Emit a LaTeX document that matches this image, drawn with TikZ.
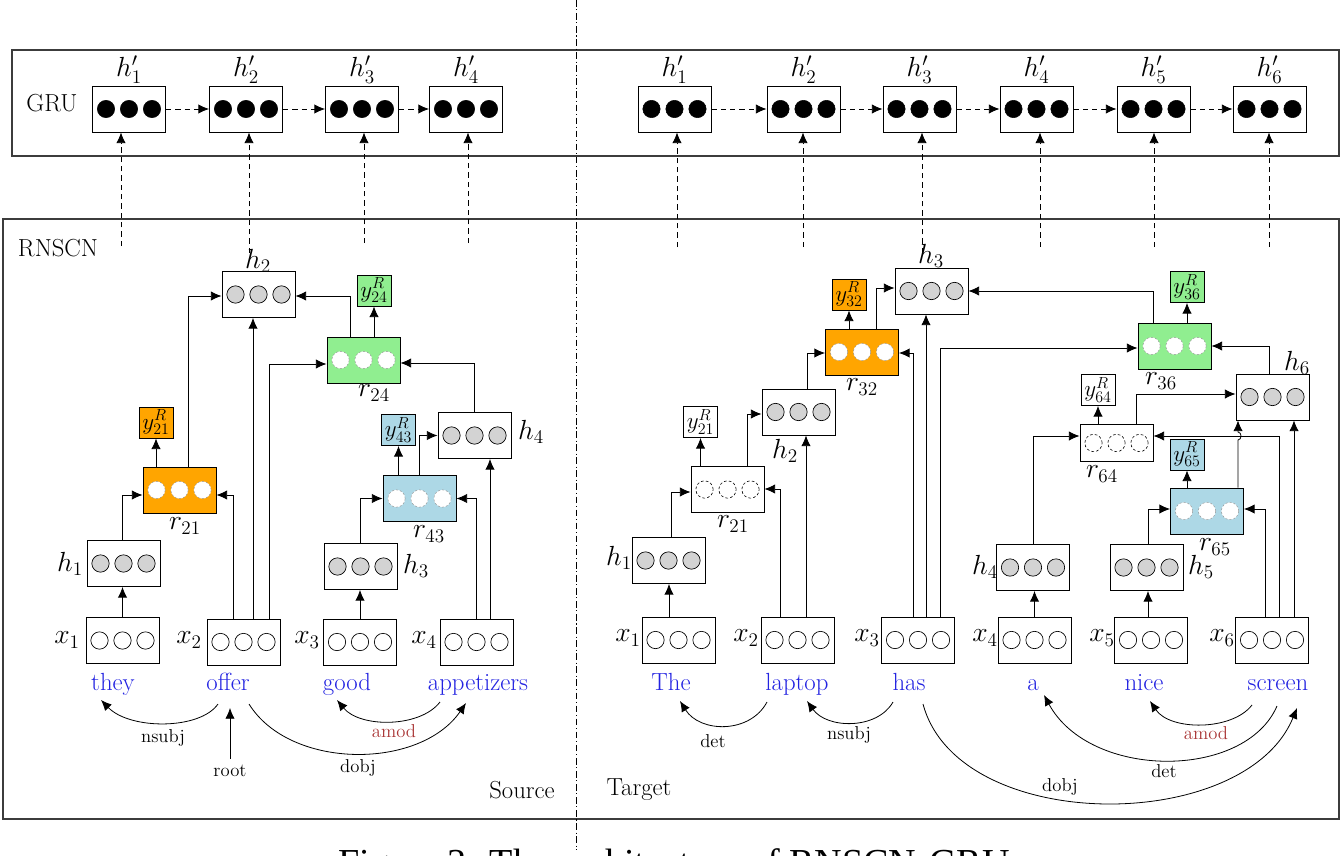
\documentclass[tikz,border=0pt]{standalone}
\usepackage{fontspec}
\newfontfamily\capfont{Liberation Serif}
\usetikzlibrary{arrows.meta,calc}
\definecolor{rorange}{RGB}{255,165,0}
\definecolor{rgreen}{RGB}{144,238,144}
\definecolor{rblue}{RGB}{173,216,230}
\definecolor{hgray}{RGB}{211,211,211}
\definecolor{wordblue}{RGB}{35,35,225}
\definecolor{amodred}{RGB}{170,55,55}
\definecolor{framegray}{RGB}{60,60,60}
\newcommand\trio[2]{\foreach \dx in {-23,0,23}{\draw[#2] ($(#1.center)+(\dx,0)$) circle[radius=6.5pt];}}
\begin{document}
\begin{tikzpicture}[x=0.75pt,y=-0.75pt,
  unitbox/.style={draw, line width=0.7pt, minimum width=54.75pt, minimum height=34.5pt, inner sep=0pt},
  ybox/.style={draw, line width=0.6pt, minimum width=25.5pt, minimum height=23.25pt, inner xsep=1pt, inner ysep=1.2pt, font=\fontsize{17}{19}\selectfont},
  arr/.style={-{Latex[length=8pt,width=7pt]}, line width=0.6pt},
  dasharr/.style={arr, dash pattern=on 4pt off 3pt},
  lbl/.style={font=\fontsize{18.5}{21}\selectfont, inner sep=0pt},
  mlbl/.style={font=\fontsize{20}{22}\selectfont, inner sep=0pt},
  dep/.style={font=\fontsize{14}{16}\selectfont, inner sep=0pt},
  word/.style={font=\fontsize{18.6}{21}\selectfont, text=wordblue, anchor=base, inner sep=0pt},
  frame/.style={draw=framegray, line width=0.8pt},
  gc/.style={fill=black},
  hc/.style={fill=hgray, draw=black, line width=0.5pt},
  xc/.style={fill=white, draw=black, line width=0.5pt},
  rcc/.style={fill=white, draw=black!45, line width=0.3pt, dash pattern=on 1.5pt off 1.5pt},
  rwc/.style={draw=black, line width=0.45pt, dash pattern=on 2pt off 1.6pt}
]
\useasboundingbox (0,0) rectangle (1342,856);

% frames
\draw[frame] (12,50) rectangle (1339,156);
\draw[frame] (3,219) rectangle (1339,819);

\node[lbl] (tgru) at (52,103) {GRU};
\node[lbl] (trnscn) at (58,248) {RNSCN};
\node[lbl] (tsrc) at (522,790) {Source};
\node[lbl] (ttgt) at (639,790) {Target};

% ---------- GRU layer ----------
\foreach \n/\x/\i in {g1/129/1,g2/246/2,g3/362/3,g4/466/4,G1/674.5/1,G2/803.5/2,G3/919.5/3,G4/1036.5/4,G5/1153.5/5,G6/1269.5/6}{
  \node[unitbox] (\n) at (\x,109) {};
  \trio{\n}{gc}
  \node[mlbl] (l\n) at (\x,70) {$h'_{\i}$};
}
\foreach \a/\b in {g1/g2,g2/g3,g3/g4,G1/G2,G2/G3,G3/G4,G4/G5,G5/G6}{
  \draw[dasharr] (\a.east) -- (\b.west);
}
\foreach \c/\x/\y/\g in {c1/121/246/g1,c2/249/253/g2,c3/364/243/g3,c4/468/243/g4,C1/677/247/G1,C2/803/247/G2,C3/922/253/G3,C4/1040/247/G4,C5/1154/247/G5,C6/1269/247/G6}{
  \coordinate (\c) at (\x,\y);
  \draw[dasharr] (\c) -- (\c |- \g.south);
}

% ---------- Source RNSCN ----------
\node[unitbox] (h2L) at (258.5,294.5) {}; \trio{h2L}{hc}
\node[unitbox, fill=rgreen] (r24) at (363.5,360) {}; \trio{r24}{rcc}
\node[ybox, fill=rgreen] (y24) at (374,290.5) {$y^R_{24}$};
\node[unitbox, fill=rorange] (r21L) at (179.5,490) {}; \trio{r21L}{rcc}
\node[ybox, fill=rorange] (y21) at (156,422.5) {$y^R_{21}$};
\node[unitbox] (h4L) at (474.5,435.5) {}; \trio{h4L}{hc}
\node[unitbox, fill=rblue] (r43) at (419.5,498.5) {}; \trio{r43}{rcc}
\node[ybox, fill=rblue] (y43) at (398.5,430) {$y^R_{43}$};
\node[unitbox] (h1L) at (123.5,563.5) {}; \trio{h1L}{hc}
\node[unitbox] (h3L) at (360.5,566.5) {}; \trio{h3L}{hc}
\node[unitbox] (x1L) at (122.5,640.5) {}; \trio{x1L}{xc}
\node[unitbox] (x2L) at (243.5,642) {}; \trio{x2L}{xc}
\node[unitbox] (x3L) at (360,642) {}; \trio{x3L}{xc}
\node[unitbox] (x4L) at (476.5,642) {}; \trio{x4L}{xc}

\node[mlbl] (lh2L) at (258,261) {$h_2$};
\node[mlbl] (lr24) at (374,393) {$r_{24}$};
\node[mlbl] (lr21L) at (185,526) {$r_{21}$};
\node[mlbl] (lh4L) at (531,432) {$h_4$};
\node[mlbl] (lr43) at (429,534) {$r_{43}$};
\node[mlbl] (lh1L) at (70,564) {$h_1$};
\node[mlbl] (lh3L) at (416,566) {$h_3$};
\node[mlbl] (lx1L) at (67,640) {$x_1$};
\node[mlbl] (lx2L) at (189,640) {$x_2$};
\node[mlbl] (lx3L) at (307,640) {$x_3$};
\node[mlbl] (lx4L) at (424,640) {$x_4$};

\draw[arr] ($(r21L.north)+(8.5,0)$) |- ($(h2L.west)+(0,1.5)$);
\draw[arr] ($(r24.north)+(-13.5,0)$) |- ($(h2L.east)+(0,1.5)$);
\draw[arr] (r24.north -| y24.south) -- (y24.south);
\draw[arr] (r21L.north -| y21.south) -- (y21.south);
\draw[arr] ($(x2L.north)+(9.5,0)$) coordinate (a5) -- (a5 |- h2L.south);
\draw[arr] ($(x2L.north)+(25.5,0)$) |- ($(r24.west)+(0,4)$);
\draw[arr] ($(x2L.north)+(-10.5,0)$) |- ($(r21L.east)+(0,5)$);
\draw[arr] ($(h1L.north)+(-1.5,0)$) |- ($(r21L.west)+(0,5)$);
\draw[arr] (h4L.north) |- ($(r24.east)+(0,3)$);
\draw[arr] ($(x4L.north)+(13.5,0)$) coordinate (a10) -- (a10 |- h4L.south);
\draw[arr] (x4L.north) |- (r43.east);
\draw[arr] (r43.north) |- (h4L.west);
\draw[arr] (r43.north -| y43.south) -- (y43.south);
\draw[arr] (h3L.north) |- (r43.west);
\draw[arr] (x1L.north) -- (x1L.north |- h1L.south);
\draw[arr] (x3L.north) -- (x3L.north |- h3L.south);

% words (source)
\node[word] (wThey) at (113,690) {they};
\node[word] (wOffer) at (228,690) {offer};
\node[word] (wGood) at (347,690) {good};
\node[word] (wApp) at (478,690) {appetizers};

\draw[arr] ($(wOffer.base)+(-10,14)$) .. controls +(-18,26) and +(29,30) .. ($(wThey.base)+(-12,10)$);
\draw[arr] ($(wOffer.base)+(21,14)$) .. controls +(41,66) and +(-46,67) .. ($(wApp.base)+(-12,13)$);
\draw[arr] ($(wApp.base)+(-38,12)$) .. controls +(-20,26) and +(23,28) .. ($(wGood.base)+(-10,10)$);
\node[dep] (droot) at (230,771) {root};
\draw[arr] ($(droot.north)+(0,-6)$) -- ($(wOffer.base)+(2,18)$);
\node[dep] (dnsubjL) at (163,738) {nsubj};
\node[dep] (ddobjL) at (358,768) {dobj};
\node[dep, text=amodred] (damodL) at (394,731) {amod};

% ---------- Target RNSCN ----------
\node[unitbox] (h3R) at (931.5,291) {}; \trio{h3R}{hc}
\node[unitbox, fill=rorange] (r32) at (862,352) {}; \trio{r32}{rcc}
\node[ybox, fill=rorange] (y32) at (849,294.5) {$y^R_{32}$};
\node[unitbox] (h2R) at (798.5,412) {}; \trio{h2R}{hc}
\node[ybox, fill=white] (y21R) at (700.5,422) {$y^R_{21}$};
\node[unitbox] (r21R) at (727.5,489.5) {}; \trio{r21R}{rwc}
\node[unitbox] (h1R) at (668.5,560.5) {}; \trio{h1R}{hc}
\node[ybox, fill=rgreen] (y36) at (1187,287) {$y^R_{36}$};
\node[unitbox, fill=rgreen] (r36) at (1174.5,346) {}; \trio{r36}{rcc}
\node[unitbox] (h6R) at (1272.5,397) {}; \trio{h6R}{hc}
\node[ybox, fill=white] (y64) at (1098,390) {$y^R_{64}$};
\node[unitbox, minimum height=27.75pt] (r64) at (1116.5,443) {}; \trio{r64}{rwc}
\node[ybox, fill=rblue] (y65) at (1187,454.5) {$y^R_{65}$};
\node[unitbox, fill=rblue] (r65) at (1207,511) {}; \trio{r65}{rcc}
\node[unitbox] (h4R) at (1033,567.5) {}; \trio{h4R}{hc}
\node[unitbox] (h5R) at (1146.5,567.5) {}; \trio{h5R}{hc}
\foreach \n/\x in {x1R/678.5,x2R/797.5,x3R/918,x4R/1034.5,x5R/1151,x6R/1272}{
  \node[unitbox] (\n) at (\x,640) {}; \trio{\n}{xc}
}

\node[mlbl] (lh3R) at (931,256) {$h_3$};
\node[mlbl] (lr32) at (862,387) {$r_{32}$};
\node[mlbl] (lh2R) at (785,451) {$h_2$};
\node[mlbl] (lr21R) at (733,524) {$r_{21}$};
\node[mlbl] (lh1R) at (619,558) {$h_1$};
\node[mlbl] (lr36) at (1161,381) {$r_{36}$};
\node[mlbl] (lh6R) at (1297,363) {$h_6$};
\node[mlbl] (lr64) at (1102,474) {$r_{64}$};
\node[mlbl] (lr65) at (1215,547) {$r_{65}$};
\node[mlbl] (lh4R) at (985,567) {$h_4$};
\node[mlbl] (lh5R) at (1201,567) {$h_5$};
\node[mlbl] (lx1R) at (628,638) {$x_1$};
\node[mlbl] (lx2R) at (746,638) {$x_2$};
\node[mlbl] (lx3R) at (867,638) {$x_3$};
\node[mlbl] (lx4R) at (985,638) {$x_4$};
\node[mlbl] (lx5R) at (1102,638) {$x_5$};
\node[mlbl] (lx6R) at (1222,638) {$x_6$};

\draw[arr] ($(r32.north)+(14,0)$) |- ($(h3R.west)+(0,-3)$);
\draw[arr] (r32.north -| y32.south) -- (y32.south);
\draw[arr] ($(h2R.north)+(8.5,0)$) |- ($(r32.west)+(0,1)$);
\draw[arr] ($(x3R.north)+(-5,0)$) |- ($(r32.east)+(0,1)$);
\draw[arr] ($(x3R.north)+(8,0)$) coordinate (b5) -- (b5 |- h3R.south);
\draw[arr] ($(x3R.north)+(22,0)$) |- ($(r36.west)+(0,2)$);
\draw[arr] ($(r21R.north)+(19.5,0)$) |- ($(h2R.west)+(0,2)$);
\draw[arr] (r21R.north -| y21R.south) -- (y21R.south);
\draw[arr] ($(h1R.north)+(2.5,0)$) |- ($(r21R.west)+(0,2.5)$);
\draw[arr] ($(x2R.north)+(-17.5,0)$) |- ($(r21R.east)+(0,-0.5)$);
\draw[arr] ($(x2R.north)+(8.5,0)$) coordinate (b11) -- (b11 |- h2R.south);
\draw[arr] ($(x1R.north)+(-9.5,0)$) coordinate (b12) -- (b12 |- h1R.south);
\draw[arr] ($(r36.north)+(-21.5,0)$) |- (h3R.east);
\draw[arr] (r36.north -| y36.south) -- (y36.south);
\draw[arr] ($(h6R.north)+(-3.5,0)$) |- (r36.east);
\draw[arr] (r64.north -| y64.south) -- (y64.south);
\draw[arr] ($(r64.north)+(19.5,0)$) |- ($(h6R.west)+(0,-3)$);
\draw[arr] (h4R.north) |- ($(r64.west)+(0,-7)$);
\draw[arr] ($(x6R.north)+(7,0)$) |- ($(r64.east)+(0,-7)$);
\draw[arr] ($(r65.north)+(31,0)$) coordinate (b20) -- ($(b20 |- r64.east)+(0,-3)$)
   .. controls +(4,0) and +(4,0) .. ($(b20 |- r64.east)+(0,-11)$) -- (b20 |- h6R.south);
\draw[arr] ($(x6R.north)+(22,0)$) coordinate (b21) -- (b21 |- h6R.south);
\draw[arr] (r65.north -| y65.south) -- (y65.south);
\draw[arr] ($(h5R.north)+(1.5,0)$) |- ($(r65.west)+(0,-2)$);
\draw[arr] ($(x6R.north)+(-7,0)$) |- ($(r65.east)+(0,-2)$);
\draw[arr] (x4R.north) -- (x4R.north |- h4R.south);
\draw[arr] ($(x5R.north)+(-3,0)$) coordinate (b26) -- (b26 |- h5R.south);

% words (target)
\node[word] (wThe) at (671,690) {The};
\node[word] (wLaptop) at (797,690) {laptop};
\node[word] (wHas) at (909,690) {has};
\node[word] (wA) at (1033,690) {a};
\node[word] (wNice) at (1144,690) {nice};
\node[word] (wScreen) at (1278,690) {screen};

\draw[arr] ($(wLaptop.base)+(-30,12)$) .. controls +(-17,32) and +(20,32) .. ($(wThe.base)+(9,11)$);
\draw[arr] ($(wHas.base)+(-16,12)$) .. controls +(-16,28) and +(20,28) .. ($(wLaptop.base)+(10,11)$);
\draw[arr] ($(wHas.base)+(14,14)$) .. controls +(35,131) and +(-52,127) .. ($(wScreen.base)+(19,18)$);
\draw[arr] ($(wScreen.base)+(-1,16)$) .. controls +(-32,74) and +(46,85) .. ($(wA.base)+(11,5)$);
\draw[arr] ($(wScreen.base)+(-26,15)$) .. controls +(-20,26) and +(20,30) .. ($(wNice.base)+(6,11)$);
\node[dep] (ddet1) at (713,741) {det};
\node[dep] (dnsubjR) at (849,735) {nsubj};
\node[dep] (ddobjR) at (1060,787) {dobj};
\node[dep] (ddet2) at (1164,771) {det};
\node[dep, text=amodred] (damodR) at (1206,733) {amod};

% separator
\draw[line width=0.6pt, dash pattern=on 5pt off 2pt on 0.8pt off 2pt] (576,0) -- (576,850);

% caption (cut by the page edge)
\node[anchor=base west, inner sep=0pt, font=\capfont\fontsize{28.6}{30}\selectfont] (cap) at (338,875) {Figure 3: The architecture of RNSCN-GRU};
\end{tikzpicture}
\end{document}
